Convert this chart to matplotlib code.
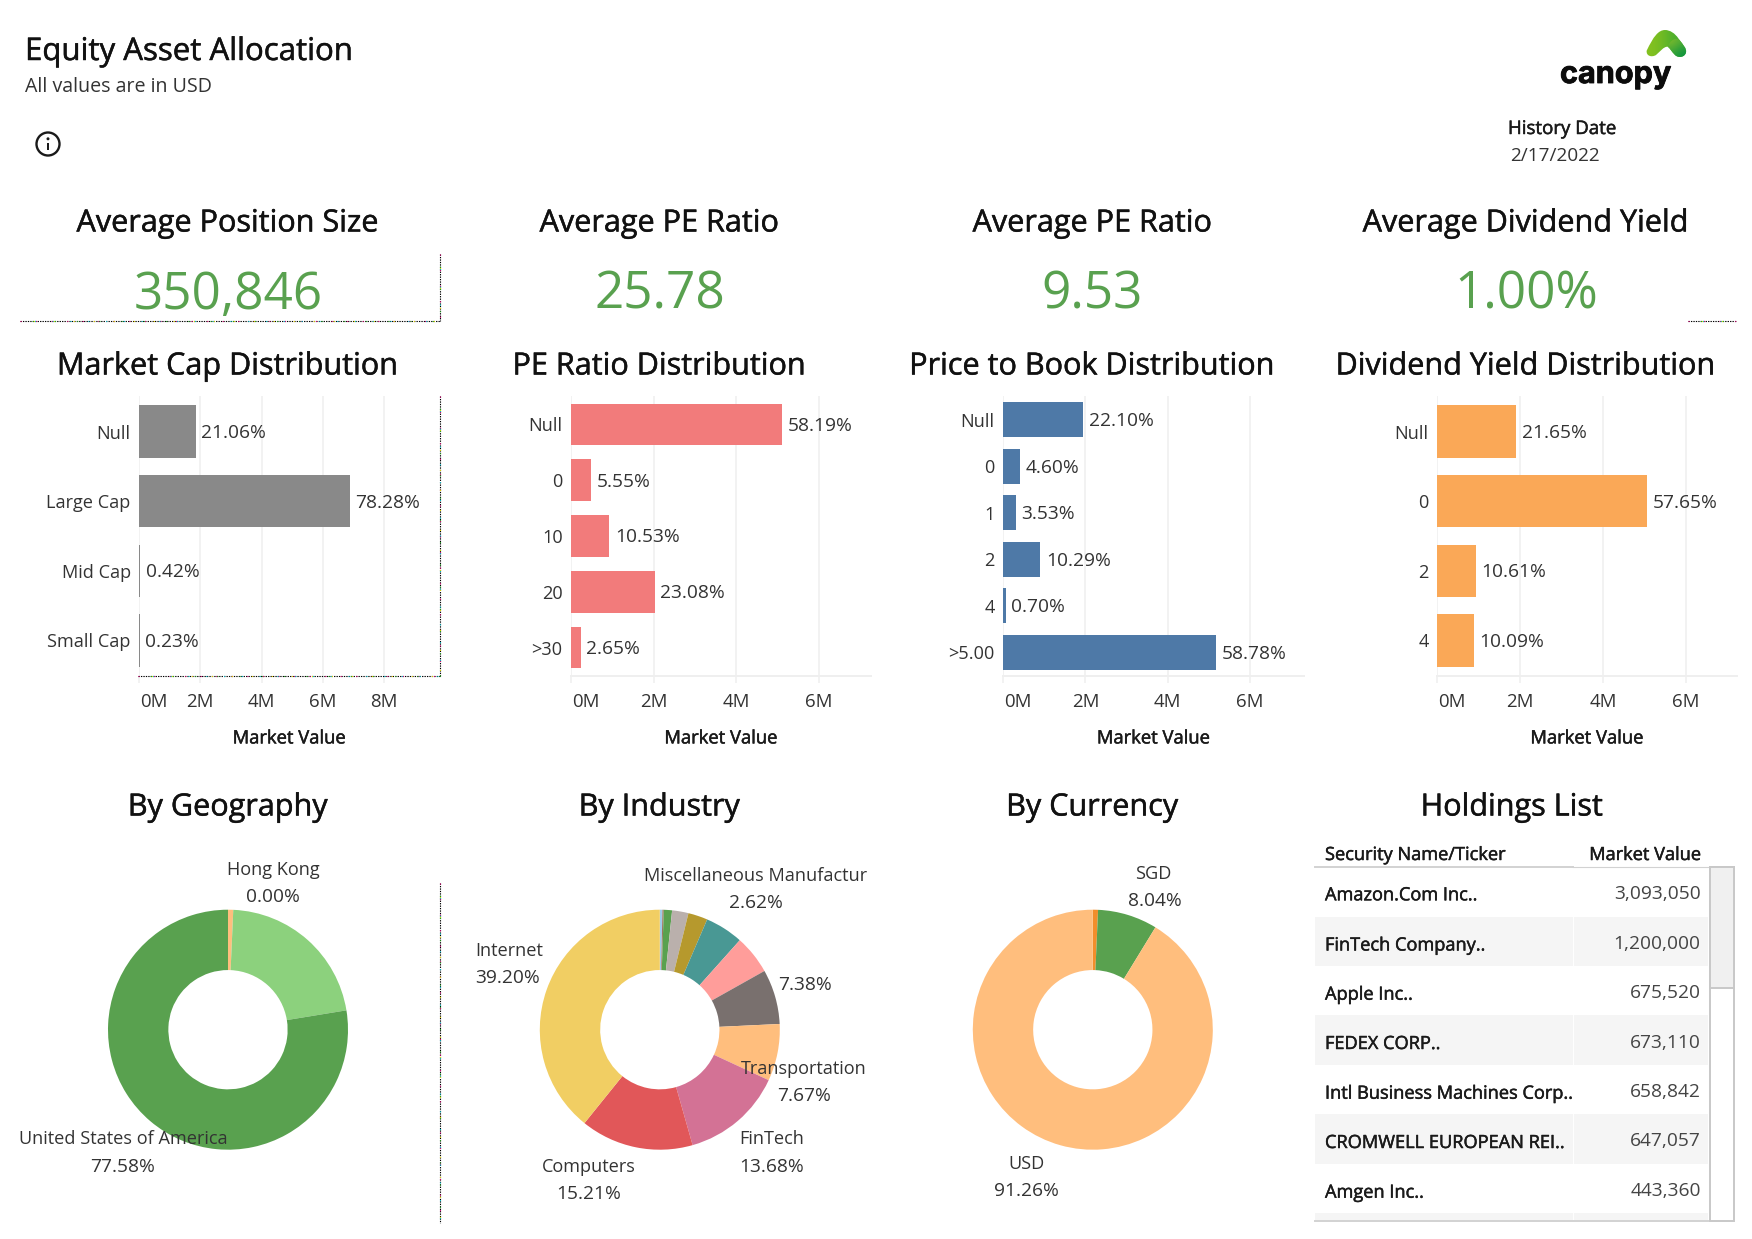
from matplotlib import pyplot as plt
from matplotlib import patheffects
from matplotlib.colors import LinearSegmentedColormap
from matplotlib.patches import Circle, PathPatch, Rectangle
from matplotlib.path import Path
from matplotlib.transforms import ScaledTranslation
import numpy as np

# Dashboard canvas size in pixels
W, H = 1752, 1239
DPI = 100

plt.rcParams['font.family'] = ['Open Sans', 'DejaVu Sans']

# KPI cards
kpi_titles = ["Average Position Size", "Average PE Ratio", "Average PE Ratio", "Average Dividend Yield"]
kpi_values = ["350,846", "25.78", "9.53", "1.00%"]

# Distributions, market value in millions
cap_names = ["Null", "Large Cap", "Mid Cap", "Small Cap"]
cap_values = [1.85, 6.88, 0.037, 0.020]
cap_labels = ["21.06%", "78.28%", "0.42%", "0.23%"]
cap_ticks = [0, 2, 4, 6, 8]

pe_names = ["Null", "0", "10", "20", ">30"]
pe_values = [5.115, 0.488, 0.925, 2.029, 0.233]
pe_labels = ["58.19%", "5.55%", "10.53%", "23.08%", "2.65%"]

pb_names = ["Null", "0", "1", "2", "4", ">5.00"]
pb_values = [1.943, 0.404, 0.310, 0.905, 0.062, 5.167]
pb_labels = ["22.10%", "4.60%", "3.53%", "10.29%", "0.70%", "58.78%"]

div_names = ["Null", "0", "2", "4"]
div_values = [1.903, 5.068, 0.933, 0.887]
div_labels = ["21.65%", "57.65%", "10.61%", "10.09%"]
short_ticks = [0, 2, 4, 6]

# Donut shares in percent, clockwise from twelve o'clock
geo_shares = [0.70, 0.00, 21.72, 77.58]
geo_colors = ["#FFBE7D", "#F28E2B", "#8CD17D", "#59A14F"]

industry_shares = [0.35, 0.18, 1.11, 2.20, 2.62, 5.15, 5.25, 7.38, 7.67, 13.68, 15.21, 39.20]
industry_colors = ["#A0CBE8", "#9D7660", "#59A14F", "#BAB0AC", "#B6992D", "#499894",
                   "#FF9D9A", "#79706E", "#FFBE7D", "#D37295", "#E15759", "#F1CE63"]

currency_shares = [0.70, 8.04, 91.26]
currency_colors = ["#F28E2B", "#59A14F", "#FFBE7D"]

# Holdings table
holding_names = ["Amazon.Com Inc..", "FinTech Company..", "Apple Inc..", "FEDEX CORP..",
                 "Intl Business Machines Corp..", "CROMWELL EUROPEAN REI..", "Amgen Inc.."]
holding_values = ["3,093,050", "1,200,000", "675,520", "673,110", "658,842", "647,057", "443,360"]

GRID = "#EFEFEF"
TEXT = "#333333"
DARK = "#1a1a1a"
NAME_SIZE = 18.2
PCT_SIZE = 19.2


def px(size):
    """Font size in points for a height given in pixels."""
    return size * 72 / DPI


def heavier(color, width=0.35):
    # Thin outline to thicken regular-weight text a little
    return [patheffects.withStroke(linewidth=width, foreground=color)]


fig = plt.figure(figsize=(W / DPI, H / DPI), dpi=DPI, facecolor="white")

# Full-size overlay working in pixel coordinates, for titles and table text
canvas = fig.add_axes([0, 0, 1, 1], zorder=10)
canvas.set_xlim(0, W)
canvas.set_ylim(H, 0)
canvas.axis("off")


def label(x, y, s, size=NAME_SIZE, color=TEXT, ha="center", va="center", **kw):
    canvas.text(x, y, s, fontsize=px(size), color=color, ha=ha, va=va, **kw)


def title(x, y, s):
    label(x, y, s, size=30.6, color="#111111", path_effects=heavier("#111111"))


def noisy_line(x0, y0, x1, y1):
    # Fine dotted border with a few coloured specks along it
    canvas.plot([x0, x1], [y0, y1], color="black", lw=0.8, linestyle=(0, (1.2, 1.0)))
    for i, c in enumerate(["#D0006F", "#00B8C8", "#E0D000", "#20A020"]):
        canvas.plot([x0, x1], [y0, y1], color=c, lw=0.8, linestyle=(i * 3, (1.0, 13 + 2 * i)))


def bar_chart(names, values, labels, color, x0, x1, per_m, ticks):
    top, bottom = 396, 676
    ax = fig.add_axes([x0 / W, 1 - bottom / H, (x1 - x0) / W, (bottom - top) / H])
    y = np.arange(len(names))
    ax.barh(y, values, height=0.75, color=color, zorder=3)
    ax.set_xlim(0, (x1 - x0) / per_m)
    ax.set_ylim(len(names) - 0.49, -0.51)
    ax.set_yticks(y, names, fontsize=px(18.2), color=TEXT)
    ax.tick_params(axis="y", length=0, pad=6)
    ax.set_xticks(ticks, [f"{t}M" for t in ticks], fontsize=px(18.6), color=TEXT)
    ax.tick_params(axis="x", length=5, width=1.1, color=GRID, pad=7)
    first = ax.get_xticklabels()[0]
    first.set_ha("left")
    first.set_transform(first.get_transform() + ScaledTranslation(1.5 / DPI, 0, fig.dpi_scale_trans))
    ax.grid(axis="x", color=GRID, lw=1.1, zorder=0)
    ax.set_axisbelow(True)
    for side in ["top", "right", "left"]:
        ax.spines[side].set_visible(False)
    ax.spines["bottom"].set_color(GRID)
    ax.spines["bottom"].set_linewidth(1.4)
    for yi, v, s in zip(y, values, labels):
        ax.annotate(s, (v, yi), xytext=(4.0, -1), textcoords="offset points",
                    va="center", ha="left", fontsize=px(PCT_SIZE), color=TEXT)
    ax.set_xlabel("Market Value", fontsize=px(18.4), color=DARK, labelpad=13.5,
                  path_effects=heavier(DARK))
    return ax


def donut(shares, colors, cx):
    cy, r = 1029.7, 120
    size = 2 * r + 4
    ax = fig.add_axes([(cx - size / 2) / W, 1 - (cy + size / 2) / H, size / W, size / H])
    ax.pie(shares, colors=colors, startangle=90, counterclock=False, radius=1,
           wedgeprops={"width": 0.503, "linewidth": 0})
    ax.set_xlim(-size / 2 / r, size / 2 / r)
    ax.set_ylim(-size / 2 / r, size / 2 / r)
    return ax


def gradient_shape(points, data, colors, extent):
    # Bezier outline filled with a colour gradient, outline given in logo units
    verts = [(1620 + x / 3, 20 + y / 3) for x, y in points]
    path = Path(verts, [Path.MOVETO] + [Path.CURVE4] * (len(verts) - 1))
    patch = PathPatch(path, fc="none", ec="none")
    canvas.add_patch(patch)
    cmap = LinearSegmentedColormap.from_list("logo", colors)
    img = canvas.imshow(data, extent=extent, cmap=cmap, aspect="auto", interpolation="bicubic", vmin=0, vmax=1)
    img.set_clip_path(patch)


# Header
label(25, 60, "Equity Asset Allocation", size=31.2, color="#111111", ha="left", va="baseline",
      path_effects=heavier("#111111"))
label(25, 92.5, "All values are in USD", size=19.6, color=TEXT, ha="left", va="baseline")
label(1508, 134, "History Date", size=18.7, color=DARK, ha="left", va="baseline", path_effects=heavier(DARK))
label(1510.5, 161, "2/17/2022", size=19, color=TEXT, ha="left", va="baseline")

# Info icon
canvas.add_patch(Circle((48, 144), 11.5, fill=False, ec=DARK, lw=1.7))
canvas.add_patch(Rectangle((46.9, 142.5), 2.3, 7.5, fc=DARK, ec="none"))
canvas.add_patch(Circle((48, 138.8), 1.5, fc=DARK, ec="none"))

# Logo: word mark and two-tone leaf shape
label(1560, 83, "canopy", size=30.6, color="#0c0c0c", ha="left", va="baseline", weight="bold",
      family="Inter", path_effects=heavier("#0c0c0c", 0.6))
leaf_outline = [(80, 92), (100, 50), (115, 30), (135, 30), (150, 30), (165, 40), (175, 55),
                (190, 75), (200, 85), (198, 97), (195, 112), (175, 115), (165, 105),
                (155, 95), (150, 85), (143, 80), (130, 80), (120, 95), (108, 105),
                (95, 113), (78, 108), (80, 92)]
lobe_outline = [(143, 80), (150, 60), (170, 50), (178, 60), (190, 75), (200, 85), (198, 97),
                (195, 112), (175, 115), (165, 105), (155, 95), (150, 85), (143, 80)]
gradient_shape(leaf_outline, np.array([[0.0, 1.0]]), ["#86C21F", "#3FAA30"], (1646, 1688, 59, 29))
gradient_shape(lobe_outline, np.array([[0.0, 0.4], [0.6, 1.0]]), ["#7DBB2C", "#0A9440"], (1667, 1687, 58, 37))
canvas.set_xlim(0, W)
canvas.set_ylim(H, 0)

# KPI row
card_x = [228, 659.5, 1092.5, 1526]
for x, t, v in zip(card_x, kpi_titles, kpi_values):
    title(x, 223.5, t)
    label(x, 295, v, size=51.2, color="#59A14F")

# Distribution row
dist_titles = ["Market Cap Distribution", "PE Ratio Distribution", "Price to Book Distribution",
               "Dividend Yield Distribution"]
for x, t in zip(card_x, dist_titles):
    title(x, 366.5, t)

cap_ax = bar_chart(cap_names, cap_values, cap_labels, "#898989", 139, 439.5, 30.65, cap_ticks)
cap_ax.spines["bottom"].set_visible(False)
bar_chart(pe_names, pe_values, pe_labels, "#F27B7B", 571, 871, 41.3, short_ticks)
bar_chart(pb_names, pb_values, pb_labels, "#4E79A7", 1003, 1304, 41.2, short_ticks)
bar_chart(div_names, div_values, div_labels, "#FAA857", 1437, 1737, 41.5, short_ticks)

# Dotted container borders
noisy_line(20, 321, 440, 321)
noisy_line(439.5, 254, 439.5, 321)
noisy_line(1688, 321, 1736, 321)
noisy_line(138, 676, 439.5, 676)
noisy_line(439.5, 396, 439.5, 676)
noisy_line(439.5, 883, 439.5, 1223)

# Donut row
for x, t in zip([228, 659.5, 1092.5, 1512], ["By Geography", "By Industry", "By Currency", "Holdings List"]):
    title(x, 807.5, t)

donut(geo_shares, geo_colors, 228)
donut(industry_shares, industry_colors, 659.8)
donut(currency_shares, currency_colors, 1092.8)

label(273.5, 870, "Hong Kong")
label(273, 896.7, "0.00%", size=PCT_SIZE)
label(123.7, 1139, "United States of America")
label(122.5, 1166.7, "77.58%", size=PCT_SIZE)

label(756, 876, "Miscellaneous Manufactur")
label(756, 903, "2.62%", size=PCT_SIZE)
label(509.3, 951.3, "Internet")
label(507.7, 978, "39.20%", size=PCT_SIZE)
label(805, 984.7, "7.38%", size=PCT_SIZE)
label(804, 1069.3, "Transportation")
label(803.8, 1096, "7.67%", size=PCT_SIZE)
label(772, 1139.3, "FinTech")
label(772, 1166.7, "13.68%", size=PCT_SIZE)
label(589.3, 1166.7, "Computers")
label(588.7, 1193.7, "15.21%", size=PCT_SIZE)

label(1153.3, 874, "SGD")
label(1154.7, 901, "8.04%", size=PCT_SIZE)
label(1026, 1163.7, "USD")
label(1026.7, 1191, "91.26%", size=PCT_SIZE)

# Holdings table
label(1325, 860, "Security Name/Ticker", color=DARK, ha="left", va="baseline", path_effects=heavier(DARK))
label(1700.7, 860, "Market Value", color=DARK, ha="right", va="baseline", path_effects=heavier(DARK))
for y0, y1 in [(916.7, 965.7), (1015, 1065), (1114.3, 1164), (1213.3, 1220)]:
    canvas.add_patch(Rectangle((1315, y0), 392.7, y1 - y0, fc="#F5F5F5", ec="none", zorder=0))
    canvas.plot([1573.3, 1573.3], [y0, y1], color="white", lw=0.7, zorder=0.5)
canvas.plot([1315, 1573], [867, 867], color="#D2D2D2", lw=1.4)
canvas.plot([1573, 1708], [867, 867], color="#D2D2D2", lw=0.8)
canvas.plot([1315, 1708], [1221, 1221], color="#D2D2D2", lw=1.4)

row_y = [895.3, 945.5, 994.7, 1044, 1093.7, 1143, 1192.7]
for y, n, v in zip(row_y, holding_names, holding_values):
    label(1325, y, n, color=DARK, ha="left", path_effects=heavier(DARK))
    label(1700.7, y - 1.5, v, size=PCT_SIZE, color="#444444", ha="right")

# Scrollbar
canvas.add_patch(Rectangle((1709.7, 867), 24.6, 354, fc="white", ec="#C8C8C8", lw=1.4))
canvas.add_patch(Rectangle((1709.7, 867), 24.6, 121.3, fc="#F0F0F0", ec="#C8C8C8", lw=1.4))

fig.savefig("out.png", dpi=DPI)
